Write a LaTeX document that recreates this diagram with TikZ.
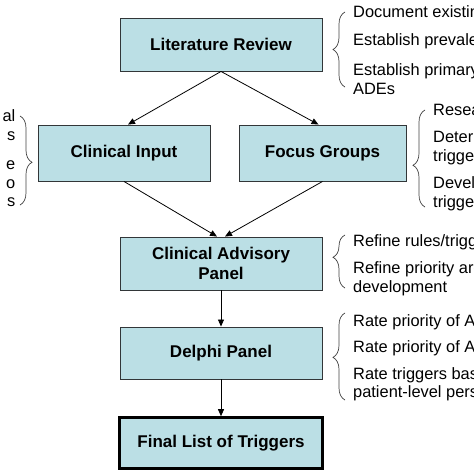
\documentclass[tikz,border=0pt]{standalone}
\usepackage{fontspec}
\setmainfont{Liberation Sans}
\usepackage{tikz}
\usetikzlibrary{positioning, arrows.meta, calc, decorations.pathreplacing}
\usepackage{xcolor}
\definecolor{boxfill}{RGB}{187,223,229}
\definecolor{boxline}{RGB}{50,54,56}

\begin{document}
\begin{tikzpicture}[x=1pt, y=-1pt,
	stage/.style={draw=boxline, fill=boxfill, line width=0.9pt, align=center,
		font=\fontsize{17}{20}\selectfont\bfseries},
	flow/.style={-{Triangle[length=7pt, width=6pt]}, line width=0.8pt},
	curly/.style={decorate, line width=0.7pt, draw=black!75,
		decoration={brace, amplitude=12pt, aspect=#1}},
	note/.style={anchor=west, align=left, inner sep=0pt,
		font=\fontsize{16.4}{18.5}\selectfont}]
	\useasboundingbox (0,0) rectangle (474,474);
	\clip (0,0) rectangle (474,474);
	
	\node[stage, minimum width=202pt, minimum height=53pt] (lit) at (221,44.5) {Literature Review};
	\node[stage, minimum width=172pt, minimum height=56pt] (clin) at (124,153) {Clinical Input};
	\node[stage, minimum width=167pt, minimum height=56pt] (focus) at (322.5,153) {Focus Groups};
	\node[stage, minimum width=202pt, minimum height=53pt] (cap) at (221,263.5) {Clinical Advisory\\Panel};
	\node[stage, minimum width=202pt, minimum height=52pt] (delphi) at (221,353) {Delphi Panel};
	\node[stage, minimum width=203pt, minimum height=51pt, draw=black, line width=2.6pt] (final) at (221,443) {Final List of Triggers};
	
	\draw[flow] (lit.south) -- ($(clin.north)+(4,0)$);
	\draw[flow] (lit.south) -- ($(focus.north)+(-4,0)$);
	\draw[flow] (clin.south) -- ($(cap.north)+(-4,0)$);
	\draw[flow] (focus.south) -- ($(cap.north)+(4,0)$);
	\draw[flow] (cap.south) -- (delphi.north);
	\draw[flow] (delphi.south) -- (final.north);
	
	\draw[curly=0.5] (345,87) -- (345,12);
	\node[note] (lit1) at (353,13) {Document existing};
	\node[note] (lit2) at (353,41) {Establish prevalence};
	\node[note] (lit3) at (353,79) {Establish primary\\ADEs};
	
	\draw[curly=0.52] (20,116) -- (20,205);
	\node[note, anchor=east, align=right] (clin1) at (15.5,125) {al\\s};
	\node[note, anchor=east, align=right] (clin2) at (15.5,184) {e\\o\\s};
	
	\draw[curly=0.43] (425,207) -- (425,110);
	\node[note] (focus1) at (433,110) {Research};
	\node[note] (focus2) at (433,148) {Determine\\triggers};
	\node[note] (focus3) at (433,194) {Develop\\triggers};
	
	\draw[curly=0.58] (345,288) -- (345,235);
	\node[note] (cap1) at (353,242) {Refine rules/triggers};
	\node[note] (cap2) at (353,279) {Refine priority areas\\development};
	
	\draw[curly=0.49] (345,400) -- (345,313);
	\node[note] (delphi1) at (353,322) {Rate priority of ADEs};
	\node[note] (delphi2) at (353,348) {Rate priority of ADEs};
	\node[note] (delphi3) at (353,384.5) {Rate triggers based\\patient-level perspective};
\end{tikzpicture}
\end{document}
